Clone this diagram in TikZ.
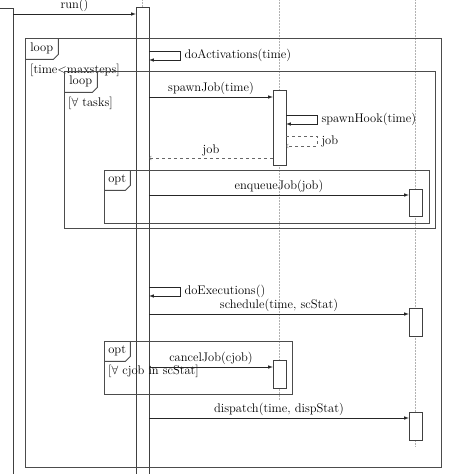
\documentclass[tikz,border=0pt]{standalone}
\usepackage{amsmath}
\usepackage{xcolor}
\usepackage{tikz}
\usetikzlibrary{shapes, arrows, positioning, calc}

\begin{document}
\begin{tikzpicture}[x=1pt, y=-1pt, font=\fontsize{12.5}{14}\selectfont]
    \tikzstyle{act}=[rectangle, draw=black!75, fill=white, minimum width=13pt, inner sep=0pt, anchor=north]
    \tikzstyle{life}=[draw=black!30, densely dotted, line width=0.5pt]
    \tikzstyle{frame}=[draw=black!70, line width=0.9pt]
    \tikzstyle{tag}=[anchor=north west, inner sep=2pt, minimum height=21pt]
    \tikzstyle{msg}=[draw=black!85, line width=0.6pt, -latex]
    \tikzstyle{ret}=[draw=black!60, line width=0.6pt, dashed, ->]
    \useasboundingbox (0,0) rectangle (474,474);
    % lifelines
    \draw[life] (142.5,0) -- (142.5,10);
    \draw[life] (279.5,0) -- (279.5,400);
    \draw[life] (415.5,0) -- (415.5,447);
    % activations
    \node[act, minimum width=20pt, minimum height=480pt] (user) at (3,8) {};
    \node[act, minimum height=480pt] (main) at (142.5,7) {};
    \node[act, minimum height=75pt] (spawn) at (279.5,90) {};
    \node[act, minimum height=27pt] (enq) at (415.5,189) {};
    \node[act, minimum height=28pt] (sched) at (415.5,308) {};
    \node[act, minimum height=28pt] (cancel) at (279.5,360) {};
    \node[act, minimum height=28pt] (disp) at (415.5,412) {};
    % frames
    \draw[frame] (25,38) rectangle (441,467);
    \node[tag, minimum width=33pt] (outertag) at (25,38) {loop};
    \draw[frame] (outertag.north east) -- ([yshift=5pt]outertag.south east) -- ([xshift=-5pt]outertag.south east) -- (outertag.south west);
    \node[anchor=west, inner sep=0pt] (outerguard) at (30,70) {[time\textless maxsteps]};
    \draw[frame] (64,71) rectangle (435,228);
    \node[tag, minimum width=33pt] (innertag) at (64,71) {loop};
    \draw[frame] (innertag.north east) -- ([yshift=5pt]innertag.south east) -- ([xshift=-5pt]innertag.south east) -- (innertag.south west);
    \node[anchor=west, inner sep=0pt] (innerguard) at (68,103) {[$\forall$ tasks]};
    \draw[frame] (104,170) rectangle (429,223);
    \node[tag, minimum width=26pt, minimum height=20pt] (opttag) at (104,170) {opt};
    \draw[frame] (opttag.north east) -- ([yshift=5pt]opttag.south east) -- ([xshift=-5pt]opttag.south east) -- (opttag.south west);
    \draw[frame] (104,341) rectangle (292,394);
    \node[tag, minimum width=26pt, minimum height=20pt] (canceltag) at (104,341) {opt};
    \draw[frame] (canceltag.north east) -- ([yshift=5pt]canceltag.south east) -- ([xshift=-5pt]canceltag.south east) -- (canceltag.south west);
    \node[anchor=west, inner sep=0pt] (cancelguard) at (108,371) {[$\forall$ cjob in scStat]};
    % messages
    \coordinate (yrun) at (0,14);
    \draw[msg] (user.east |- yrun) -- node[above, inner sep=2pt] {run()} (main.west |- yrun);
    \coordinate (yact) at (0,51);
    \draw[msg] (main.east |- yact) -- ++(31,0) -- node[right, inner sep=4pt] {doActivations(time)} ++(0,9) -- ++(-31,0);
    \coordinate (yspawn) at (0,97);
    \draw[msg] (main.east |- yspawn) -- node[above, inner sep=2pt] {spawnJob(time)} (spawn.west |- yspawn);
    \coordinate (yhook) at (0,115);
    \draw[msg] (spawn.east |- yhook) -- ++(31,0) -- node[right, inner sep=4pt] {spawnHook(time)} ++(0,9) -- ++(-31,0);
    \coordinate (yhookret) at (0,136);
    \draw[ret] (spawn.east |- yhookret) -- ++(31,0) -- node[right, inner sep=4pt] {job} ++(0,10) -- ++(-31,0);
    \coordinate (yjob) at (0,158);
    \draw[ret] (spawn.west |- yjob) -- node[above, inner sep=2pt] {job} (main.east |- yjob);
    \coordinate (yenq) at (0,195);
    \draw[msg] (main.east |- yenq) -- node[above, inner sep=2pt] {enqueueJob(job)} (enq.west |- yenq);
    \coordinate (yexec) at (0,287);
    \draw[msg] (main.east |- yexec) -- ++(31,0) -- node[right, inner sep=4pt] {doExecutions()} ++(0,9) -- ++(-31,0);
    \coordinate (ysched) at (0,314);
    \draw[msg] (main.east |- ysched) -- node[above, inner sep=2pt] {schedule(time, scStat)} (sched.west |- ysched);
    \coordinate (ycancel) at (0,367);
    \draw[msg] (main.east |- ycancel) -- node[above, inner sep=2pt] {cancelJob(cjob)} (cancel.west |- ycancel);
    \coordinate (ydisp) at (0,418);
    \draw[msg] (main.east |- ydisp) -- node[above, inner sep=2pt] {dispatch(time, dispStat)} (disp.west |- ydisp);
\end{tikzpicture}
\end{document}
